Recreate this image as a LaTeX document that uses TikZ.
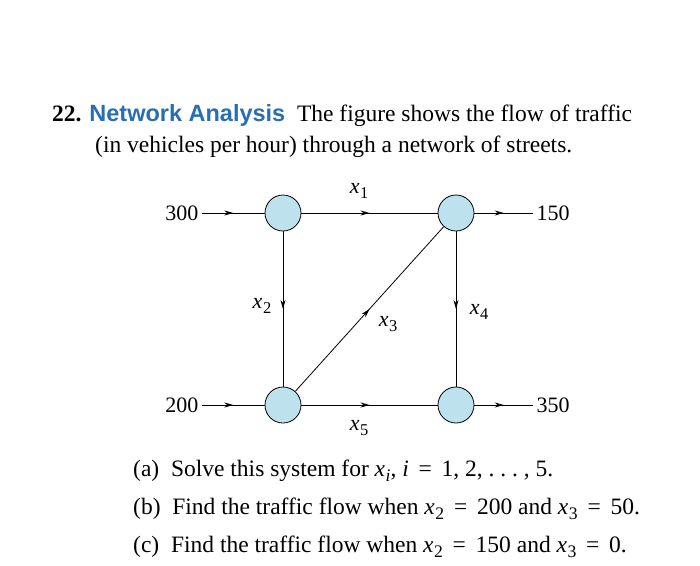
\documentclass[tikz,border=0pt]{standalone}
\usepackage{fontspec}
\setmainfont{Liberation Serif}
\newfontfamily\hsans{Liberation Sans}
\usetikzlibrary{decorations.markings,arrows.meta}
\definecolor{nodeblue}{RGB}{190,225,238}
\definecolor{titleblue}{RGB}{40,110,180}
\newcommand{\vx}[1]{\textit{x}\kern0.5pt\raisebox{-0.25em}{\scalebox{0.75}{#1}}}
\newcommand{\vxi}[1]{\textit{x}\kern0.5pt\raisebox{-0.25em}{\scalebox{0.75}{\textit{#1}}}}
\newcommand{\eqs}{\ \,=\ \,}
\begin{document}
\begin{tikzpicture}[x=1pt,y=-1pt,
  junc/.style={circle,draw,fill=nodeblue,minimum size=36pt,inner sep=0pt,line width=0.8pt},
  flow/.style={line width=0.8pt,postaction={decorate},decoration={markings,mark=at position 0.5 with {\arrow{Stealth[length=9pt,width=5pt]}}}},
  lab/.style={font=\fontsize{22}{22}\selectfont},
  num/.style={font=\fontsize{22}{22}\selectfont},
  txt/.style={anchor=base west,font=\fontsize{23.5}{26}\selectfont,inner sep=0pt}]
\useasboundingbox (0,0) rectangle (700,565);
\node[junc] (a) at (283,213) {};
\node[junc] (b) at (456,213) {};
\node[junc] (c) at (283,405) {};
\node[junc] (d) at (456,405) {};
\node[num,anchor=east] (i1) at (202,213) {300};
\node[num,anchor=east] (i2) at (202,405) {200};
\node[num,anchor=west] (o1) at (533,213) {150};
\node[num,anchor=west] (o2) at (533,405) {350};
\draw[flow] (i1.east) -- (a);
\draw[flow] (i2.east) -- (c);
\draw[flow] (b) -- (o1.west);
\draw[flow] (d) -- (o2.west);
\draw[flow] (a) -- (b);
\draw[flow] (a) -- (c);
\draw[flow] (c) -- (b);
\draw[flow] (b) -- (d);
\draw[flow] (c) -- (d);
\node[lab] (l1) at (359,191) {\vx{1}};
\node[lab] (l2) at (262,306) {\vx{2}};
\node[lab] (l3) at (388,324) {\vx{3}};
\node[lab] (l4) at (479,312) {\vx{4}};
\node[lab] (l5) at (359,428) {\vx{5}};
\node[txt] (t1) at (52,121) {\textbf{22.} \textcolor{titleblue}{\hsans\bfseries Network Analysis}\ \ The figure shows the flow of traffic};
\node[txt] (t2) at (95,152) {(in vehicles per hour) through a network of streets.};
\node[txt] (q1) at (133,476) {(a)\ \ Solve this system for \vxi{i}, \textit{i}\eqs 1, 2, .\ .\ .\ , 5.};
\node[txt] (q2) at (133,514) {(b)\ \ Find the traffic flow when \vx{2}\eqs 200 and \vx{3}\eqs 50.};
\node[txt] (q3) at (133,552) {(c)\ \ Find the traffic flow when \vx{2}\eqs 150 and \vx{3}\eqs 0.};
\end{tikzpicture}
\end{document}
